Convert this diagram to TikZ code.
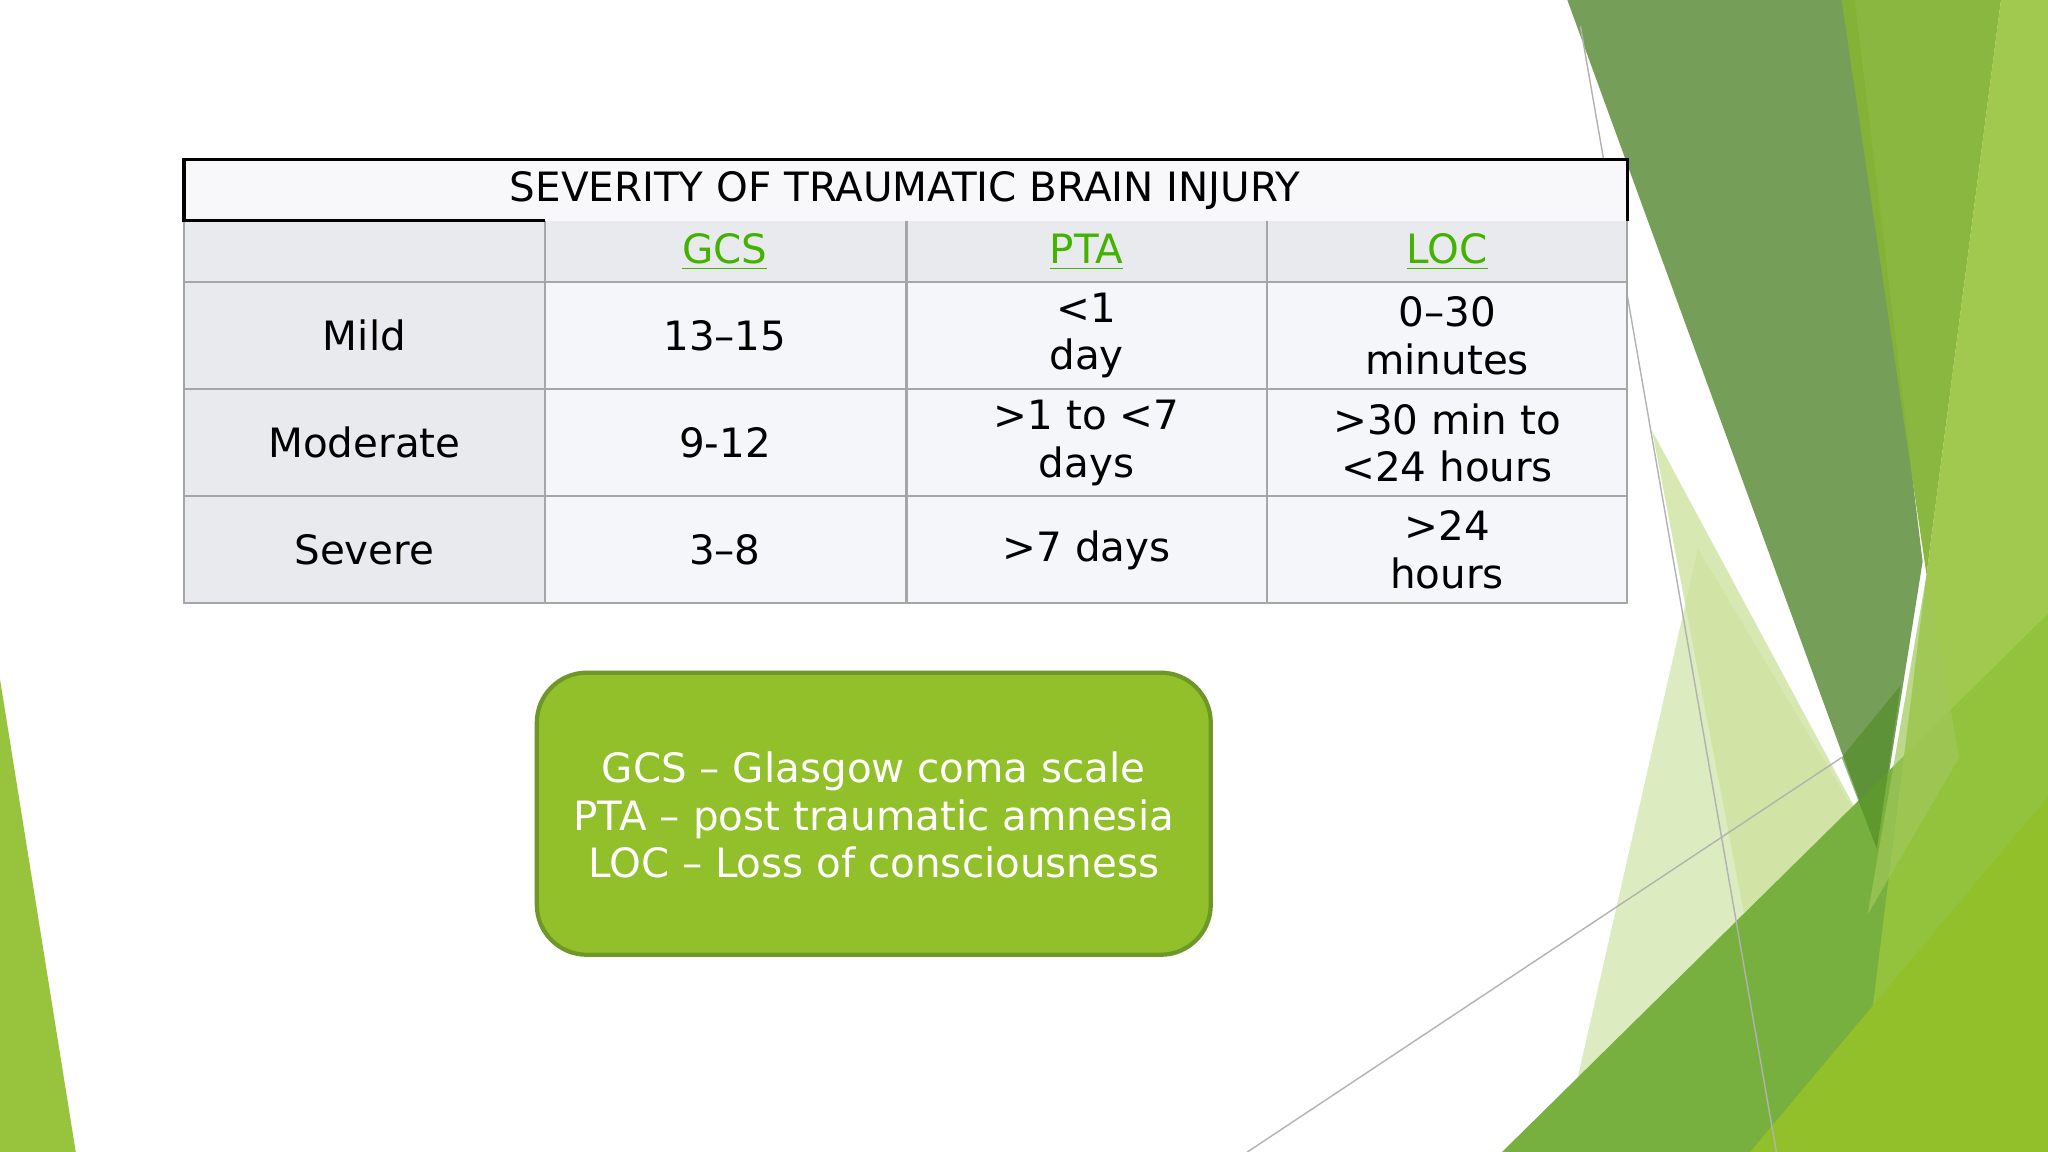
\documentclass[tikz,border=0pt]{standalone}
\usepackage{fontspec}
\setmainfont{DejaVu Sans}
\begin{document}
\begin{tikzpicture}[x=0.01306cm,y=-0.01306cm,
  cell/.style={font=\fontsize{11.5}{13.5}\selectfont,align=center,text=black},
  hd/.style={font=\fontsize{11.5}{13.5}\selectfont,text=green!50!lime!70!black},
  ln/.style={draw=gray!60,line width=0.4pt}]
\useasboundingbox (0,0) rectangle (1568,882);
\fill[white] (0,0) rectangle (1568,882);
% background shapes
\fill[color={rgb,255:red,110;green,154;blue,80},opacity=0.95] (1200,0)--(1420,0)--(1472,430)--(1437,650)--cycle;
\fill[color={rgb,255:red,221;green,235;blue,192}] (1195,882)--(1300,420)--(1437,650)--(1400,882)--cycle;
\fill[color={rgb,255:red,206;green,227;blue,160},opacity=0.8] (1265,330)--(1437,650)--(1370,882)--cycle;
\fill[color={rgb,255:red,120;green,176;blue,64}] (1150,882)--(1568,470)--(1568,882)--cycle;
\fill[color={rgb,255:red,132;green,180;blue,53},opacity=0.95] (1410,0)--(1532,0)--(1475,440)--cycle;
\fill[color={rgb,255:red,151;green,196;blue,60},opacity=0.9] (1532,0)--(1568,0)--(1568,882)--(1420,882)--(1475,440)--cycle;
\fill[color={rgb,255:red,160;green,200;blue,90},opacity=0.7] (1475,440)--(1500,580)--(1430,700)--cycle;
\fill[color={rgb,255:red,78;green,138;blue,35},opacity=0.6] (1410,580)--(1455,525)--(1437,650)--cycle;
\fill[color={rgb,255:red,146;green,192;blue,42}] (1340,882)--(1568,610)--(1568,882)--cycle;
\fill[color={rgb,255:red,151;green,196;blue,60}] (0,520)--(0,882)--(58,882)--cycle;
\draw[ln] (1210,20)--(1360,882);
\draw[ln] (955,882)--(1410,580);
% table
\fill[color={rgb,255:red,248;green,248;blue,250}] (141,122) rectangle (1246,169);
\fill[color={rgb,255:red,233;green,234;blue,237}] (141,169) rectangle (1246,216);
\fill[color={rgb,255:red,233;green,234;blue,237}] (141,216) rectangle (417,462);
\fill[color={rgb,255:red,245;green,246;blue,250}] (417,216) rectangle (1246,462);
\draw[gray!70,line width=0.6pt] (141,169)--(141,462)--(1246,462)--(1246,169);
\foreach \yy in {216,298,380} \draw[gray!70,line width=0.6pt] (141,\yy)--(1246,\yy);
\foreach \xx in {417,694,970} \draw[gray!70,line width=0.6pt] (\xx,169)--(\xx,462);
\draw[black,line width=1pt] (417,169)--(141,169)--(141,122)--(1246,122)--(1246,169);
\node[cell] (title) at (693,146) {SEVERITY OF TRAUMATIC BRAIN INJURY};
\node[hd] (gcs) at (555,193) {\underline{GCS}};
\node[hd] (pta) at (832,193) {\underline{PTA}};
\node[hd] (loc) at (1108,193) {\underline{LOC}};
\node[cell] (r1) at (279,257) {Mild};
\node[cell] (r2) at (279,339) {Moderate};
\node[cell] (r3) at (279,421) {Severe};
\node[cell] (a1) at (555,257) {13–15};
\node[cell] (a2) at (555,339) {9-12};
\node[cell] (a3) at (555,421) {3–8};
\node[cell] (b1) at (832,257) {<1\\day};
\node[cell] (b2) at (832,339) {>1 to <7\\days};
\node[cell] (b3) at (832,421) {>7 days};
\node[cell] (c1) at (1108,257) {0–30\\minutes};
\node[cell] (c2) at (1108,339) {>30 min to\\<24 hours};
\node[cell] (c3) at (1108,421) {>24\\hours};
% legend box
\draw[fill={rgb,255:red,146;green,192;blue,42},draw={rgb,255:red,110;green,150;blue,40},line width=1.2pt,rounded corners=0.5cm] (411,515) rectangle (927,731);
\node[font=\fontsize{11.5}{13.6}\selectfont,align=center,text=white] (leg) at (669,624) {GCS – Glasgow coma scale\\PTA – post traumatic amnesia\\LOC – Loss of consciousness};
\end{tikzpicture}
\end{document}
